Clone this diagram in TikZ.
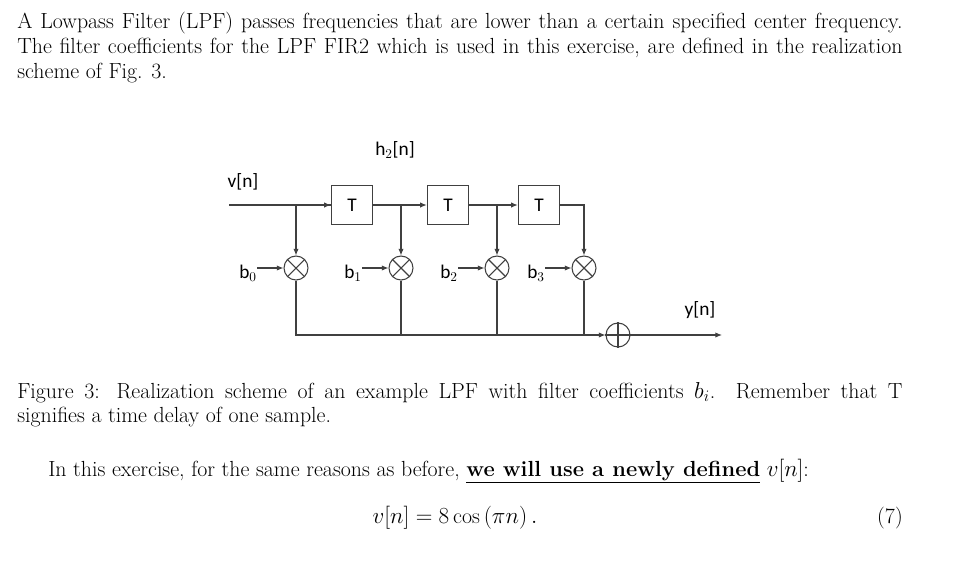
\documentclass[tikz,border=0pt]{standalone}
\usepackage{fontspec}
\newfontfamily\dia{Carlito}
\usetikzlibrary{arrows.meta}
\begin{document}
\begin{tikzpicture}[x=0.75pt,y=-0.75pt,
  wire/.style={draw=black!75,line width=0.8pt},
  arr/.style={wire,-{Latex[length=5pt,width=4pt]}},
  tbox/.style={draw=black!75,line width=0.8pt,minimum width=31pt,minimum height=29pt,font=\dia\fontsize{14.5}{16}\selectfont,inner sep=0pt},
  circ/.style={circle,draw=black!75,line width=0.8pt,minimum size=18pt,inner sep=0pt},
  lab/.style={font=\dia\fontsize{14.5}{16}\selectfont,inner sep=0pt},
  txt/.style={anchor=base west,inner sep=0pt,font=\fontsize{16.4}{19}\selectfont}]
\useasboundingbox (0,0) rectangle (953,576);
\fill[white] (0,0) rectangle (953,576);
% text
\node[txt] (l1) at (17,28) {\makebox[664pt][s]{A Lowpass Filter (LPF) passes frequencies that are lower than a certain specified center frequency.}};
\node[txt] (l2) at (17,53) {\makebox[664pt][s]{The filter coefficients for the LPF FIR2 which is used in this exercise, are defined in the realization}};
\node[txt] (l3) at (17,78) {scheme of Fig. 3.};
\node[txt] (c1) at (17,398) {\makebox[664pt][s]{Figure 3: Realization scheme of an example LPF with filter coefficients $b_i$. Remember that T}};
\node[txt] (c2) at (17,422) {signifies a time delay of one sample.};
\node[txt] (p1) at (48,476) {In this exercise, for the same reasons as before, \underline{\textbf{we will use a newly defined}} $v[n]$:};
\node[anchor=base,inner sep=0pt,font=\fontsize{16.4}{19}\selectfont] (eq) at (455,523) {$v[n] = 8\cos\left(\pi n\right).$};
\node[anchor=base east,inner sep=0pt,font=\fontsize{16.4}{19}\selectfont] (eqn) at (903,523) {(7)};
% diagram
\node[lab] (vn) at (243,182) {v[n]};
\node[lab] (h2) at (395,150) {h$_2$[n]};
\node[lab] (yn) at (700,310) {y[n]};
\node[tbox] (T1) at (352,205) {T};
\node[tbox] (T2) at (448,205) {T};
\node[tbox] (T3) at (539,205) {T};
\foreach \i/\x in {0/296,1/401,2/497,3/584}{
  \node[circ] (m\i) at (\x,268) {};
  \draw[wire] (m\i.north west)--(m\i.south east) (m\i.north east)--(m\i.south west);
  \node[lab] (b\i) at (\x-48,273) {b$_\i$};
  \draw[arr] (b\i.east|-m\i) -- (m\i.west);
}
\node[circ] (add) at (618,335) {};
\draw[wire] (add.north)--(add.south) (add.west)--(add.east);
\coordinate (in) at (229,205);
\coordinate (out) at (722,335);
\draw[wire] (in) -- (T1.west);
\draw[arr] (m0|-in) -- (T1.west);
\draw[arr] (T1.east) -- (T2.west);
\draw[arr] (T2.east) -- (T3.west);
\draw[arr] (m0|-in) -- (m0.north);
\draw[arr] (m1|-T1) -- (m1.north);
\draw[arr] (m2|-T2) -- (m2.north);
\draw[arr] (T3.east) -| (m3.north);
\draw[wire] (m0.south) |- (m3|-add);
\draw[wire] (m1.south) -- (m1|-add);
\draw[wire] (m2.south) -- (m2|-add);
\draw[arr] (m3.south) |- (add.west);
\draw[arr] (add.east) -- (out);
\end{tikzpicture}
\end{document}
